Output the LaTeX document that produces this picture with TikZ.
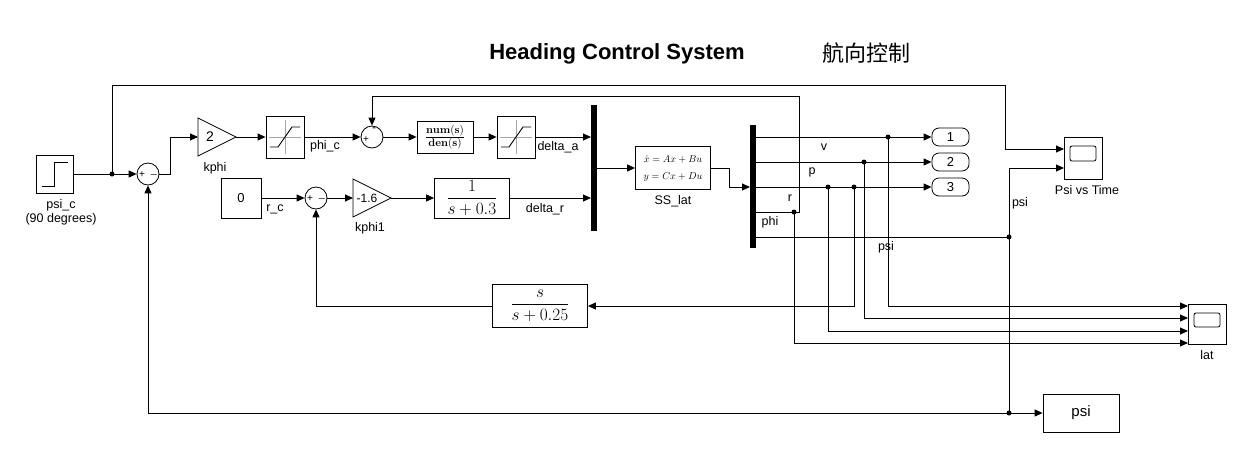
\documentclass[tikz,border=0pt]{standalone}
\usepackage{amsmath}
\usepackage[no-math]{fontspec}
\setmainfont{Liberation Sans}
\newfontfamily\cjk{Noto Sans CJK SC}
\usetikzlibrary{arrows.meta,shapes.geometric}
\begin{document}
\begin{tikzpicture}[x=1pt,y=-1pt,
  blk/.style={draw,thick,fill=white,inner sep=0pt},
  sm/.style={draw,circle,thick,minimum size=22pt,inner sep=0pt},
  lab/.style={font=\fontsize{12.5}{14}\selectfont,inner sep=1pt},
  sg/.style={inner sep=0pt,font=\fontsize{10}{10}\selectfont},
  ar/.style={-{Triangle[length=8pt,width=7pt]}},
  dot/.style={circle,fill,inner sep=0pt,minimum size=5pt},
  line width=0.9pt]
\useasboundingbox (0,0) rectangle (1248,472);
\node[font=\bfseries\fontsize{22}{24}\selectfont] (title) at (617,54) {Heading Control System};
\node[font=\cjk\fontsize{22}{24}\selectfont] (cn) at (866,53) {航向控制};
% step
\node[blk,minimum width=37pt,minimum height=38pt] (step) at (54.5,174) {};
\draw (step.center)++(-13,12) -- ++(13,0) -- ++(0,-24) -- ++(13,0);
\node[lab,align=center] (steplab) at (61,212) {psi\_c\\(90 degrees)};
% sum1
\node[sm] (sum1) at (148,174) {};
\node[sg] at (142,175) {+};
\node[sg] at (154,174) {\_};
% gain
\coordinate (g1in) at (198,137); \coordinate (g1out) at (236,137);
\draw[thick,fill=white] (198,118) -- (236,137) -- (198,156) -- cycle;
\node[lab,font=\fontsize{14}{14}\selectfont] (g1t) at (210,137) {2};
\node[lab] (g1l) at (215,168) {kphi};
% sat1
\node[blk,minimum width=38pt,minimum height=42pt] (sat1) at (285,137) {};
\draw[gray!70,line width=0.5pt] (sat1.center)++(0,-17) -- ++(0,34) (sat1.center)++(-16,0) -- ++(32,0);
\draw (sat1.center)++(-15,10) -- ++(8,0) -- ++(14,-20) -- ++(8,0);
\node[lab] (phic) at (325,146) {phi\_c};
% sum2
\node[sm] (sum2) at (372,137) {};
\node[sg] at (366,140) {+};
\node[sg,font=\fontsize{12}{12}\selectfont] at (374,130) {-};
% num/den
\node[blk,minimum width=56pt,minimum height=32pt,font=\fontsize{15}{15}\selectfont] (nd) at (445,137) {$\frac{\mathbf{num(s)}}{\mathbf{den(s)}}$};
% sat2
\node[blk,minimum width=38pt,minimum height=42pt] (sat2) at (516,137) {};
\draw[gray!70,line width=0.5pt] (sat2.center)++(0,-17) -- ++(0,34) (sat2.center)++(-16,0) -- ++(32,0);
\draw (sat2.center)++(-15,10) -- ++(8,0) -- ++(14,-20) -- ++(8,0);
\node[lab] (da) at (558,147) {delta\_a};
% mux1
\node[fill,minimum width=6pt,minimum height=126pt,inner sep=0pt] (mux1) at (594,168) {};
% const
\node[blk,minimum width=40pt,minimum height=40pt,font=\fontsize{13}{13}\selectfont] (const) at (241,198) {0};
\node[lab] (rc) at (275,209) {r\_c};
% sum3
\node[sm] (sum3) at (316,198) {};
\node[sg] at (310,199) {+};
\node[sg] at (322,198) {\_};
% gain2
\coordinate (g2in) at (353,198); \coordinate (g2out) at (391,198);
\draw[thick,fill=white] (353,179) -- (391,198) -- (353,217) -- cycle;
\node[lab,font=\fontsize{12}{12}\selectfont] (g2t) at (367,198) {-1.6};
\node[lab] (g2l) at (370,228) {kphi1};
% tf1
\node[blk,minimum width=75pt,minimum height=40pt,font=\fontsize{17}{18}\selectfont] (tf1) at (472,198) {$\dfrac{1}{s+0.3}$};
\node[lab] (dr) at (545,209) {delta\_r};
% ss
\node[blk,minimum width=75pt,minimum height=43pt] (ss) at (673,168) {};
\node[inner sep=0pt,font=\fontsize{10}{12}\selectfont] (ss1) at (673,159) {$\dot{x}=Ax+Bu$};
\node[inner sep=0pt,font=\fontsize{10}{12}\selectfont] (ss2) at (673,177) {$y=Cx+Du$};
\node[lab] (ssl) at (673,201) {SS\_lat};
% mux2
\node[fill,minimum width=6pt,minimum height=123pt,inner sep=0pt] (mux2) at (753,186.5) {};
% outports
\foreach \n/\yy in {1/137,2/162,3/187}{
  \node[draw,thick,rounded corners=7pt,minimum width=37pt,minimum height=18pt,font=\fontsize{13}{13}\selectfont] (out\n) at (950.5,\yy) {\n};
}
% scope psi vs time
\node[blk,minimum width=38pt,minimum height=42pt] (sc1) at (1083,158) {};
\draw[thick,rounded corners=2pt] (sc1.center)++(-13,-12) rectangle ++(26,15);
\node[lab] (sc1l) at (1087,190) {Psi vs Time};
% scope lat
\node[blk,minimum width=38pt,minimum height=40pt] (sc2) at (1207,324) {};
\draw[thick,rounded corners=2pt] (sc2.center)++(-13,-11) rectangle ++(26,14);
\node[lab] (sc2l) at (1207,355) {lat};
% washout
\node[blk,minimum width=95pt,minimum height=43pt,font=\fontsize{17}{18}\selectfont] (wo) at (540,306) {$\dfrac{s}{s+0.25}$};
% psi box
\node[blk,minimum width=76pt,minimum height=38pt,font=\fontsize{15}{16}\selectfont] (psib) at (1081,413) {psi};
% coordinates
\coordinate (j1) at (112,174);
\coordinate (jr) at (794,212);
\coordinate (jpsi) at (1009,237);
\coordinate (jpsi2) at (1009,413);
\coordinate (jv) at (888,137);
\coordinate (jp) at (864,162);
\coordinate (j3a) at (828,187);
\coordinate (j3b) at (854,187);
% wires
\draw[ar] (step.east) -- (sum1.west);
\draw[ar] (j1) -- (112,85) -- (1005,85) -- (1005,149) -- (1064,149);
\draw[ar] (sum1.east) -- (170,174) -- (170,137) -- (g1in);
\draw[ar] (g1out) -- (sat1.west);
\draw[ar] (sat1.east) -- (sum2.west);
\draw[ar] (sum2.east) -- (nd.west);
\draw[ar] (nd.east) -- (sat2.west);
\draw[ar] (sat2.east) -- (591,137);
\draw[ar] (const.east) -- (sum3.west);
\draw[ar] (sum3.east) -- (g2in);
\draw[ar] (g2out) -- (tf1.west);
\draw[ar] (tf1.east) -- (591,198);
\draw[ar] (mux1.east) -- (ss.west);
\draw[ar] (ss.east) -- (729,168) -- (729,187) -- (750,187);
\draw[ar] (756,137) -- (out1.west);
\draw[ar] (756,162) -- (out2.west);
\draw[ar] (756,187) -- (out3.west);
\draw[ar] (756,212) -- (799,212) -- (799,96) -- (372,96) -- (sum2.north);
\draw[ar] (jr) -- (794,343) -- (1188,343);
\draw (756,237) -- (jpsi);
\draw[ar] (jpsi) -- (1009,168) -- (1064,168);
\draw (jpsi) -- (jpsi2);
\draw[ar] (jpsi2) -- (psib.west);
\draw[ar] (jpsi2) -- (148,413) -- (sum1.south);
\draw[ar] (jv) -- (888,306) -- (1188,306);
\draw[ar] (jp) -- (864,318) -- (1188,318);
\draw[ar] (j3a) -- (828,331) -- (1188,331);
\draw[ar] (j3b) -- (854,306) -- (wo.east);
\draw[ar] (wo.west) -- (316,306) -- (sum3.south);
\foreach \c in {j1,jr,jpsi,jpsi2,jv,jp,j3a,j3b} \node[dot] at (\c) {};
% signal labels
\node[lab] (lv) at (824,147) {v};
\node[lab] (lp) at (812,172) {p};
\node[lab] (lr) at (790,198) {r};
\node[lab] (lphi) at (770,222) {phi};
\node[lab] (lpsi) at (886,247) {psi};
\node[lab] (lpsi2) at (1020,203) {psi};
\end{tikzpicture}
\end{document}
